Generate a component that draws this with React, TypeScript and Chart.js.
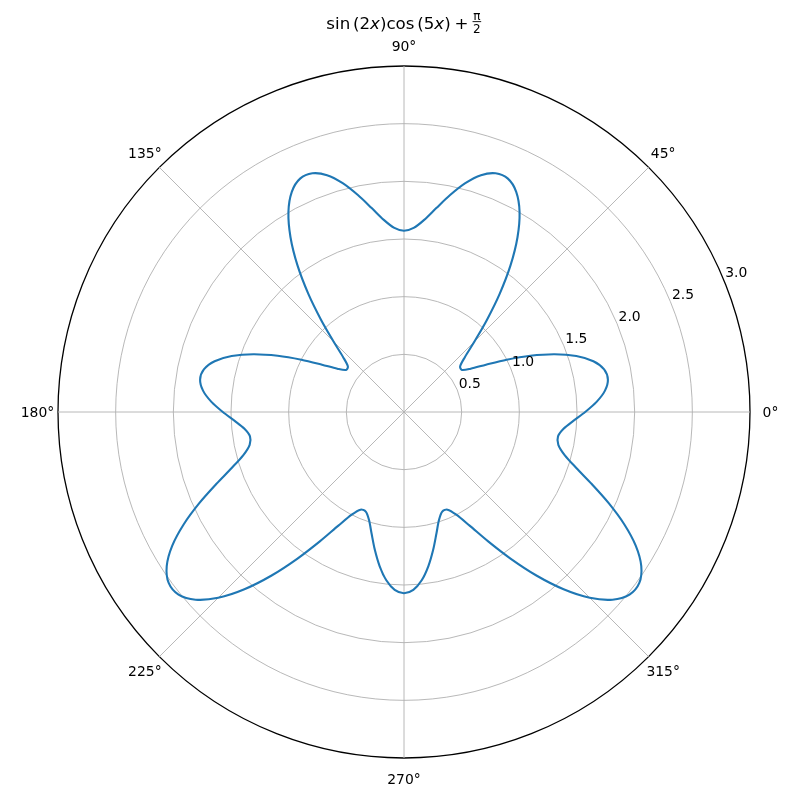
import React, { useEffect, useRef } from "react";
import { Chart, registerables } from "chart.js";

Chart.register(...registerables);

// Sample angles (degrees, counter-clockwise from the right, matplotlib convention)
const THETA_DEG = [
  0, 3, 6, 9, 12, 15, 18, 21, 24, 27, 30, 33, 36, 39, 42, 45, 48, 51, 54, 57,
  60, 63, 66, 69, 72, 75, 78, 81, 84, 87, 90, 93, 96, 99, 102, 105, 108, 111, 114, 117,
  120, 123, 126, 129, 132, 135, 138, 141, 144, 147, 150, 153, 156, 159, 162, 165, 168, 171, 174, 177,
  180, 183, 186, 189, 192, 195, 198, 201, 204, 207, 210, 213, 216, 219, 222, 225, 228, 231, 234, 237,
  240, 243, 246, 249, 252, 255, 258, 261, 264, 267, 270, 273, 276, 279, 282, 285, 288, 291, 294, 297,
  300, 303, 306, 309, 312, 315, 318, 321, 324, 327, 330, 333, 336, 339, 342, 345, 348, 351, 354, 357,
];

// Radius at each sample angle
const R_VALUES = [
  1.571, 1.672, 1.751, 1.790, 1.774, 1.700, 1.571, 1.398, 1.199, 0.999,
  0.821, 0.689, 0.620, 0.626, 0.710, 0.864, 1.074, 1.318, 1.571, 1.807,
  2.004, 2.143, 2.215, 2.217, 2.159, 2.054, 1.923, 1.790, 1.675, 1.598,
  1.571, 1.598, 1.675, 1.790, 1.923, 2.054, 2.159, 2.217, 2.215, 2.143,
  2.004, 1.807, 1.571, 1.318, 1.074, 0.864, 0.710, 0.626, 0.620, 0.689,
  0.821, 0.999, 1.199, 1.398, 1.571, 1.700, 1.774, 1.790, 1.751, 1.672,
  1.571, 1.470, 1.391, 1.352, 1.368, 1.442, 1.571, 1.744, 1.943, 2.143,
  2.321, 2.453, 2.522, 2.516, 2.432, 2.278, 2.068, 1.824, 1.571, 1.335,
  1.138, 0.999, 0.927, 0.925, 0.983, 1.088, 1.219, 1.352, 1.467, 1.544,
  1.571, 1.544, 1.467, 1.352, 1.219, 1.088, 0.983, 0.925, 0.927, 0.999,
  1.138, 1.335, 1.571, 1.824, 2.068, 2.278, 2.432, 2.516, 2.522, 2.453,
  2.321, 2.143, 1.943, 1.744, 1.571, 1.442, 1.368, 1.352, 1.391, 1.470,
];

const R_TICKS = [0.5, 1.0, 1.5, 2.0, 2.5, 3.0];
const R_TICK_LABELS = ["0.5", "1.0", "1.5", "2.0", "2.5", "3.0"];
const R_LABEL_ANGLE = 22.5;

const ANGLE_TICKS = [0, 45, 90, 135, 180, 225, 270, 315];
const ANGLE_TICK_LABELS = ["0°", "45°", "90°", "135°", "180°", "225°", "270°", "315°"];

// Title: sin(2x)cos(5x) + π/2 (mathtext-like pieces)
const TITLE_PARTS: any[] = [
  { t: "sin" }, { gap: 1 / 6 }, { t: "(2" }, { t: "x", it: true }, { t: ")" },
  { t: "cos" }, { gap: 1 / 6 }, { t: "(5" }, { t: "x", it: true }, { t: ")" },
  { gap: 4 / 18 }, { t: "+" }, { gap: 4 / 18 }, { num: "π", den: "2" },
];

const FONT = '"DejaVu Sans"';
const LINE_COLOR = "#1f77b4";
const GRID_COLOR = "#b0b0b0";

function drawTitle(ctx: CanvasRenderingContext2D, cx: number, baseline: number) {
  const size = 16.67;
  const fracSize = 12;
  const fN = `${size}px ${FONT}`;
  const fI = `oblique ${size}px ${FONT}`;
  const fF = `${fracSize}px ${FONT}`;
  const widths = TITLE_PARTS.map((p) => {
    if (p.gap) return p.gap * size;
    if (p.num) {
      ctx.font = fF;
      return Math.max(ctx.measureText(p.num).width, ctx.measureText(p.den).width) + 2;
    }
    ctx.font = p.it ? fI : fN;
    return ctx.measureText(p.t).width;
  });
  const total = widths.reduce((a, b) => a + b, 0);
  let x = cx - total / 2;
  ctx.fillStyle = "#000";
  ctx.textBaseline = "alphabetic";
  TITLE_PARTS.forEach((p, i) => {
    const w = widths[i];
    if (p.num) {
      ctx.font = fF;
      ctx.textAlign = "center";
      const mid = x + w / 2;
      ctx.fillText(p.num, mid, baseline - 9.2);
      ctx.fillText(p.den, mid, baseline + 4);
      ctx.fillRect(x + 0.5, baseline - 7.8, w - 1, 0.9);
    } else if (p.t) {
      ctx.font = p.it ? fI : fN;
      ctx.textAlign = "left";
      ctx.fillText(p.t, x, baseline);
    }
    x += w;
  });
}

const textPlugin = {
  id: "polarText",
  afterDraw(chart: any) {
    const ctx: CanvasRenderingContext2D = chart.ctx;
    const s = chart.scales.r;
    const labels: number[] = chart.data.labels;
    ctx.save();
    ctx.fillStyle = "#000";
    ctx.font = `13.9px ${FONT}`;
    // angle labels
    const outer = s.getDistanceFromCenterForValue(s.max);
    ANGLE_TICKS.forEach((deg, j) => {
      const idx = labels.indexOf(deg);
      const p = s.getPointPosition(idx, outer + 20.5);
      ctx.textAlign = "center";
      ctx.textBaseline = "alphabetic";
      ctx.fillText(ANGLE_TICK_LABELS[j], p.x, p.y + 5);
    });
    // radial labels
    const a = (R_LABEL_ANGLE * Math.PI) / 180;
    R_TICKS.forEach((v, j) => {
      const d = s.getDistanceFromCenterForValue(v);
      const x = s.xCenter + Math.cos(a) * d;
      const y = s.yCenter - Math.sin(a) * d;
      ctx.textAlign = "left";
      ctx.textBaseline = "alphabetic";
      ctx.fillText(R_TICK_LABELS[j], x + 1.5, y - 2.3);
    });
    drawTitle(ctx, 404, 29);
    ctx.restore();
  },
};

export default function App() {
  const ref = useRef<HTMLCanvasElement | null>(null);
  useEffect(() => {
    const n = THETA_DEG.length;
    // radar indexes run clockwise on screen; matplotlib angles run counter-clockwise
    const order = THETA_DEG.map((_, i) => (n - i) % n);
    const labels = order.map((k) => THETA_DEG[k]);
    const data = order.map((k) => R_VALUES[k]);
    const chart = new Chart(ref.current as HTMLCanvasElement, {
      type: "radar",
      data: {
        labels,
        datasets: [
          {
            data,
            borderColor: LINE_COLOR,
            borderWidth: 2.1,
            pointRadius: 0,
            pointHoverRadius: 0,
            fill: false,
            tension: 0.3,
          },
        ],
      },
      options: {
        responsive: false,
        animation: false,
        events: [],
        layout: { padding: { left: 58, right: 50, top: 66, bottom: 42 } },
        plugins: { legend: { display: false }, title: { display: false }, tooltip: { enabled: false } },
        scales: {
          r: {
            min: 0,
            max: 3,
            startAngle: 90,
            ticks: { display: false, stepSize: 0.5 },
            pointLabels: { display: false },
            grid: {
              circular: true,
              color: (c: any) => (c.tick && c.tick.value >= 3 ? "#000000" : GRID_COLOR),
              lineWidth: (c: any) => (c.tick && c.tick.value >= 3 ? 1.3 : 0.9),
            },
            angleLines: {
              color: GRID_COLOR,
              lineWidth: (c: any) => (ANGLE_TICKS.includes(labels[c.index]) ? 0.9 : 0),
            },
          },
        },
      },
      plugins: [textPlugin],
    } as any);
    return () => chart.destroy();
  }, []);
  return (
    <div style={{ position: "absolute", left: 0, top: 0, width: 800, height: 800, background: "#fff" }}>
      <canvas ref={ref} width={800} height={800} style={{ display: "block" }} />
    </div>
  );
}
